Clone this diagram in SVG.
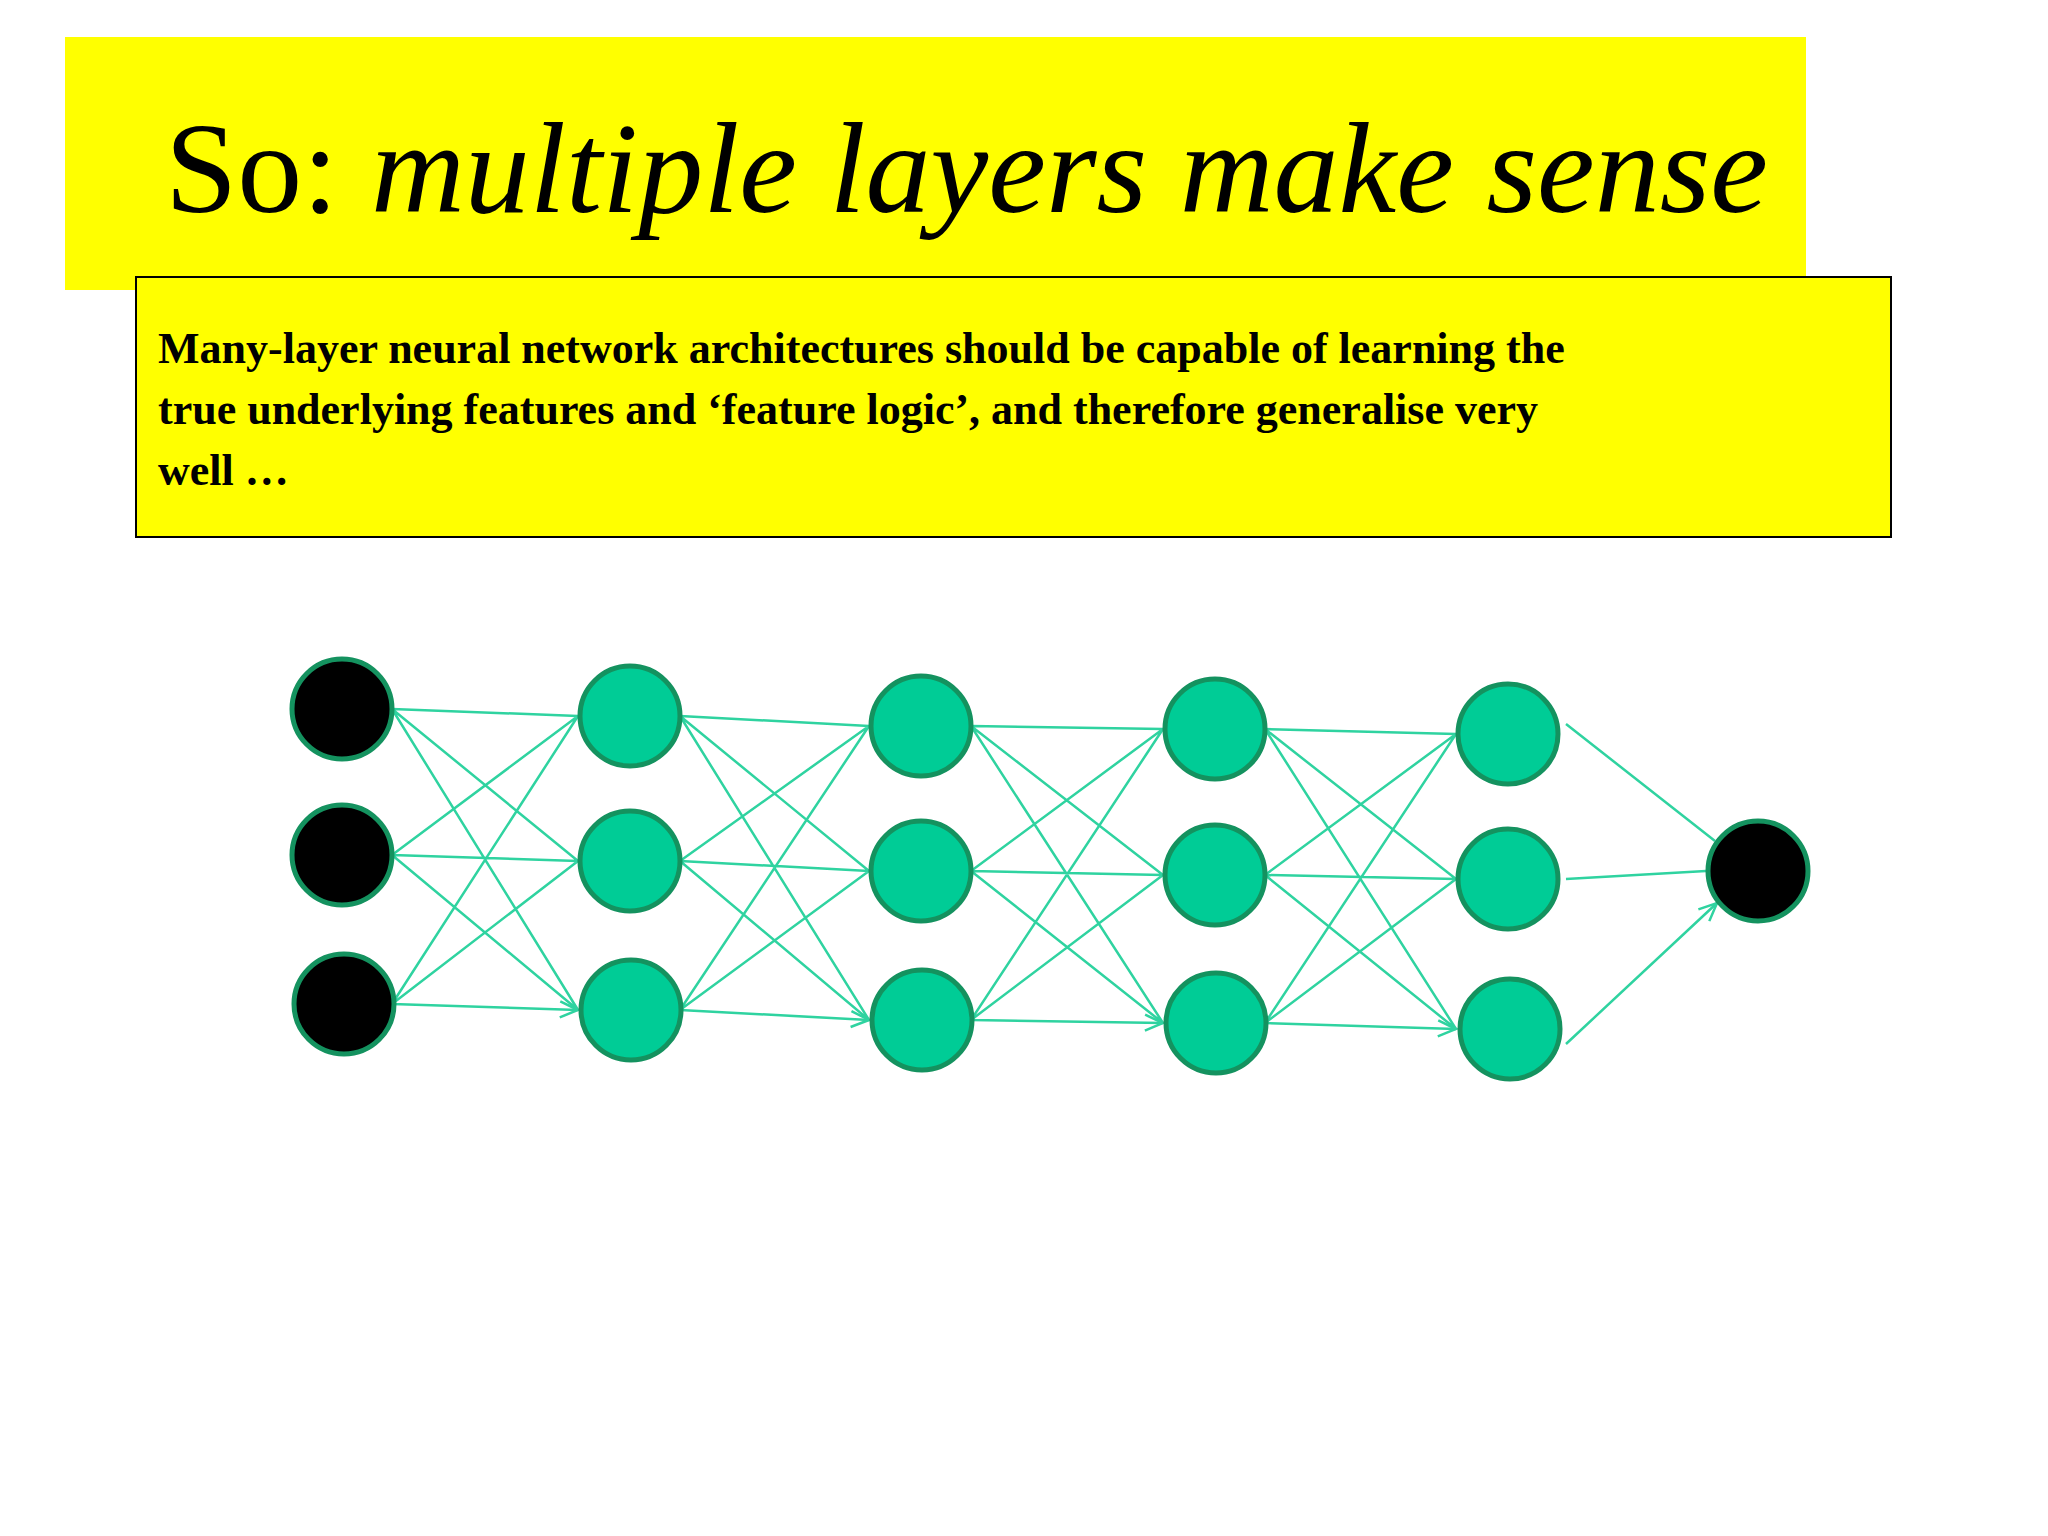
<svg xmlns="http://www.w3.org/2000/svg" width="2048" height="1536" viewBox="0 0 2048 1536">
<style>
.e{stroke:#2fd3a0;stroke-width:2.5;fill:none;marker-end:url(#a)}
.n{fill:#00cc96;stroke:#14925f;stroke-width:5}
.k{fill:#000;stroke:#14925f;stroke-width:5}
</style>
<defs><marker id="a" markerUnits="userSpaceOnUse" markerWidth="30" markerHeight="30" refX="20" refY="10" orient="auto"><path d="M2,2 L20,10 L2,18" fill="none" stroke="#2fd3a0" stroke-width="2.5"/></marker></defs>
<rect width="2048" height="1536" fill="#fff"/>
<g id="title"><rect x="65" y="37" width="1741" height="253" fill="#ffff00"/>
<text x="165" y="212" font-family="Liberation Serif,serif" font-size="130">So: <tspan font-style="italic">multiple layers make sense</tspan></text></g>
<g id="box"><rect x="136" y="277" width="1755" height="260" fill="#ffff00" stroke="#000" stroke-width="2"/>
<text font-family="Liberation Serif,serif" font-weight="bold" font-size="44"><tspan x="158" y="363">Many-layer neural network architectures should be capable of learning the</tspan><tspan x="158" y="424">true underlying features and ‘feature logic’, and  therefore generalise very</tspan><tspan x="158" y="485">well …</tspan></text></g>
<g id="connectors">
<path class="e" d="M392,709L578,716M392,709L578,861M392,709L578,1010M392,855L578,716M392,855L578,861M392,855L578,1010M392,1004L578,716M392,1004L578,861M392,1004L578,1010"/>
<path class="e" d="M680,716L869,726M680,716L869,871M680,716L869,1020M680,861L869,726M680,861L869,871M680,861L869,1020M680,1010L869,726M680,1010L869,871M680,1010L869,1020"/>
<path class="e" d="M971,726L1163,729M971,726L1163,875M971,726L1163,1023M971,871L1163,729M971,871L1163,875M971,871L1163,1023M971,1020L1163,729M971,1020L1163,875M971,1020L1163,1023"/>
<path class="e" d="M1265,729L1456,734M1265,729L1456,879M1265,729L1456,1029M1265,875L1456,734M1265,875L1456,879M1265,875L1456,1029M1265,1023L1456,734M1265,1023L1456,879M1265,1023L1456,1029"/>
<path class="e" d="M1566,724L1715,841M1566,879L1706,871M1566,1044L1717,903"/>
</g>
<g id="l0"><circle class="k" cx="342" cy="709" r="50"/><circle class="k" cx="342" cy="855" r="50"/><circle class="k" cx="344" cy="1004" r="50"/></g>
<g id="l1"><circle class="n" cx="630" cy="716" r="50"/><circle class="n" cx="630" cy="861" r="50"/><circle class="n" cx="631" cy="1010" r="50"/></g>
<g id="l2"><circle class="n" cx="921" cy="726" r="50"/><circle class="n" cx="921" cy="871" r="50"/><circle class="n" cx="922" cy="1020" r="50"/></g>
<g id="l3"><circle class="n" cx="1215" cy="729" r="50"/><circle class="n" cx="1215" cy="875" r="50"/><circle class="n" cx="1216" cy="1023" r="50"/></g>
<g id="l4"><circle class="n" cx="1508" cy="734" r="50"/><circle class="n" cx="1508" cy="879" r="50"/><circle class="n" cx="1510" cy="1029" r="50"/></g>
<g id="out"><circle class="k" cx="1758" cy="871" r="50"/></g>
</svg>
